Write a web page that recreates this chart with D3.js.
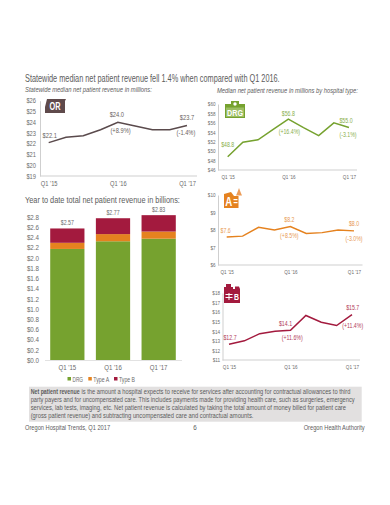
<!DOCTYPE html>
<html>
<head>
<meta charset="utf-8">
<script src="https://cdn.jsdelivr.net/npm/d3@7"></script>
<style>
body { margin: 0; background: #fff; }
svg { display: block; }
text { font-family: "Liberation Sans", sans-serif; }
</style>
</head>
<body>
<svg id="page" width="390" height="505"></svg>
<script>
const quarters = ["Q1 '15", "", "", "", "Q1 '16", "", "", "", "Q1 '17"];
const orValues = [22.1, 22.6, 22.75, 23.3, 24.0, 23.65, 23.3, 23.3, 23.7];
const drgValues = [48.8, 51.9, 52.4, 54.6, 56.8, 55.0, 53.3, 56.0, 55.0];
const typeAValues = [7.6, 7.65, 8.15, 8.0, 8.2, 7.8, 7.85, 8.0, 7.95];
const typeBValues = [12.65, 13.0, 13.75, 14.0, 14.1, 15.65, 14.95, 14.6, 15.75];

const barQuarters = ["Q1 '15", "Q1 '16", "Q1 '17"];
const barDrg = [2.17, 2.32, 2.37];
const barTypeA = [0.12, 0.14, 0.14];
const barTypeB = [0.28, 0.31, 0.32];
const barTotals = ["$2.57", "$2.77", "$2.83"];

const grey = "#6b6b6b";
const green = "#76a22f";
const orange = "#e5821f";
const crimson = "#a31a3e";
const svg = d3.select("#page");

// plain text helper, w is the width the text has in the picture
function label(x, y, str, size, w, color) {
	return svg.append("text").attr("x", x).attr("y", y)
		.attr("fill", color || "#5c5c5c")
		.attr("data-w", w)
		.style("font-size", size + "px")
		.text(str);
}

// one small line chart, the notes are [index, text, dx, dy]
function drawLine(o) {
	const x = d3.scalePoint().domain(d3.range(9)).range([o.x0, o.x1]);
	const y = d3.scaleLinear().domain(o.domain).range([o.y0, o.y1]);
	const g = svg.append("g");

	const left = g.append("g")
		.attr("transform", "translate(" + o.axisX + ",0)")
		.call(d3.axisLeft(y).tickValues(d3.range(o.domain[0], o.domain[1] + 0.01, o.step))
			.tickFormat(d => "$" + d).tickSize(0).tickPadding(o.pad));
	left.select(".domain").attr("stroke", "#cfcfcf");
	left.selectAll("text").attr("fill", grey).style("font-size", o.fs + "px");

	const bottom = g.append("g")
		.attr("transform", "translate(0," + o.y0 + ")")
		.call(d3.axisBottom(x).tickFormat(i => quarters[i]).tickSize(0).tickPadding(5));
	bottom.select(".domain").attr("stroke", "#cfcfcf")
		.attr("d", "M" + o.axisX + ",0H" + o.axisEnd);
	bottom.selectAll("text").attr("fill", grey).style("font-size", o.fs + "px");

	g.append("path")
		.datum(o.values)
		.attr("fill", "none")
		.attr("stroke", o.color)
		.attr("stroke-width", 1.5)
		.attr("d", d3.line().x((d, i) => x(i)).y(d => y(d)));

	g.selectAll(".note")
		.data(o.notes).enter()
		.append("text")
		.attr("x", d => x(d[0]) + d[2])
		.attr("y", d => y(o.values[d[0]]) + d[3])
		.attr("text-anchor", "middle")
		.attr("fill", o.textColor)
		.style("font-size", o.noteFs + "px")
		.text(d => d[1]);
}

label(25, 82, "Statewide median net patient revenue fell 1.4% when compared with Q1 2016.", 10.8, 255);
label(25, 92, "Statewide median net patient revenue in millions:", 7.4, 127).style("font-style", "italic");
label(217, 93.5, "Median net patient revenue in millions by hospital type:", 7.4, 141).style("font-style", "italic");

drawLine({ values: orValues, domain: [19, 26], step: 1, x0: 48.7, x1: 187, y0: 176, y1: 100.7,
	axisX: 40, axisEnd: 197, color: "#5a4a4c", textColor: "#6a5f60", fs: 7, noteFs: 7, pad: 4,
	notes: [[0, "$22.1", 1, -5], [4, "$24.0", -1, -5], [4, "(+8.9%)", 2.7, 10.7], [8, "$23.7", 0, -5], [8, "(-1.4%)", -1, 10]] });

drawLine({ values: drgValues, domain: [46, 60], step: 2, x0: 227.7, x1: 349, y0: 170, y1: 104,
	axisX: 218, axisEnd: 357, color: green, textColor: "#8aaf4e", fs: 5.6, noteFs: 6.4, pad: 2.5,
	notes: [[0, "$48.8", 0, -10], [4, "$56.8", 0, -3.5], [4, "(+16.4%)", 1, 15], [8, "$55.0", -3, -4.6], [8, "(-3.1%)", -1, 9.5]] });

drawLine({ values: typeAValues, domain: [6, 10], step: 1, x0: 226.7, x1: 354, y0: 265, y1: 195,
	axisX: 218, axisEnd: 362.5, color: orange, textColor: "#e89a55", fs: 5.6, noteFs: 6.4, pad: 2.5,
	notes: [[0, "$7.6", -1, -4.3], [4, "$8.2", -1, -4], [4, "(+8.5%)", -1, 12], [8, "$8.0", 0, -4.4], [8, "(-3.0%)", 0, 10]] });

drawLine({ values: typeBValues, domain: [11, 18], step: 1, x0: 229, x1: 352, y0: 360, y1: 293,
	axisX: 222.5, axisEnd: 360, color: crimson, textColor: "#b23c5a", fs: 5.6, noteFs: 6.4, pad: 2.5,
	notes: [[0, "$12.7", 1, -3.7], [4, "$14.1", -5, -4.5], [4, "(+11.6%)", 1.7, 9.7], [8, "$15.7", 0.7, -4.5], [8, "(+11.4%)", 0.7, 13.5]] });

// stacked bars
label(25, 203.5, "Year to date total net patient revenue in billions:", 9.6, 155);

const barX = d3.scaleBand().domain(barQuarters).range([44.5, 181.5]).paddingInner(0.25).paddingOuter(0.125);
const barY = d3.scaleLinear().domain([0, 2.8]).range([360, 216.7]);
const stackRows = barQuarters.map((q, i) => ({ q: q, DRG: barDrg[i], A: barTypeA[i], B: barTypeB[i] }));
const stackKeys = ["DRG", "A", "B"];
const stackColors = { DRG: green, A: orange, B: crimson };

const barLeft = svg.append("g")
	.attr("transform", "translate(44,0)")
	.call(d3.axisLeft(barY).tickValues(d3.range(0, 2.81, 0.2)).tickFormat(d => "$" + d.toFixed(1)).tickSize(0).tickPadding(5));
barLeft.select(".domain").remove();
barLeft.selectAll("text").attr("fill", grey).style("font-size", "7.6px");

svg.append("g")
	.selectAll("g")
	.data(d3.stack().keys(stackKeys)(stackRows)).enter()
	.append("g")
	.attr("fill", d => stackColors[d.key])
	.selectAll("rect")
	.data(d => d).enter()
	.append("rect")
	.attr("x", d => barX(d.data.q))
	.attr("y", d => barY(d[1]))
	.attr("width", barX.bandwidth())
	.attr("height", d => barY(d[0]) - barY(d[1]));

const barBottom = svg.append("g")
	.attr("transform", "translate(0,360)")
	.call(d3.axisBottom(barX).tickSize(0).tickPadding(5));
barBottom.select(".domain").attr("stroke", "#e2e2e2");
barBottom.selectAll("text").attr("fill", grey).style("font-size", "7.4px");

svg.append("g")
	.selectAll("text")
	.data(barQuarters).enter()
	.append("text")
	.attr("x", d => barX(d) + barX.bandwidth() / 2)
	.attr("y", (d, i) => barY(barDrg[i] + barTypeA[i] + barTypeB[i]) - 3.3)
	.attr("text-anchor", "middle")
	.attr("fill", grey)
	.style("font-size", "6.4px")
	.text((d, i) => barTotals[i]);

// legend
const legendItems = [["DRG", green, 67.5, 10.5], ["Type A", orange, 88.3, 16], ["Type B", crimson, 114, 16]];
const legend = svg.append("g").selectAll("g").data(legendItems).enter().append("g")
	.attr("transform", d => "translate(" + d[2] + ",377)");
legend.append("rect").attr("width", 3.5).attr("height", 3.5).attr("fill", d => d[1]);
legend.append("text").attr("x", 5).attr("y", 4.6).attr("fill", grey)
	.attr("data-w", d => d[3]).style("font-size", "7px").text(d => d[0]);

// icons
const orIcon = svg.append("g").attr("transform", "translate(45,99)");
orIcon.append("path").attr("fill", "#5f4a4b")
	.attr("d", "M2,0H21L20,2V14H0V8Z");
orIcon.append("text").attr("x", 10).attr("y", 11).attr("text-anchor", "middle").attr("fill", "#fff")
	.attr("data-w", 11).style("font-size", "10px").style("font-weight", "bold").text("OR");

const drgIcon = svg.append("g").attr("transform", "translate(225,101)").attr("fill", green);
drgIcon.append("path").attr("d", "M6,0H14V3H20V17H0V3H6Z");
drgIcon.append("circle").attr("cx", 10).attr("cy", 3).attr("r", 1.7).attr("fill", "#fff");
drgIcon.append("rect").attr("x", 1).attr("y", 6.5).attr("width", 18).attr("height", 9.5).attr("fill", "#9cbe63");
drgIcon.append("text").attr("x", 10).attr("y", 15).attr("text-anchor", "middle").attr("fill", "#fff")
	.attr("data-w", 16).style("font-size", "9.5px").style("font-weight", "bold").text("DRG");

const aIcon = svg.append("g").attr("transform", "translate(224,191)").attr("fill", orange);
aIcon.append("path").attr("d", "M0,3L7,1L10,5H14.5V17H0Z");
aIcon.append("path").attr("d", "M12,4.5L13.5,1L15,-3L16.5,1L18,4.5Z").attr("fill", "#ec9c58");
aIcon.append("text").attr("x", 4.8).attr("y", 15).attr("text-anchor", "middle").attr("fill", "#fff")
	.attr("data-w", 7).style("font-size", "12px").style("font-weight", "bold").text("A");
aIcon.append("rect").attr("x", 9.5).attr("y", 8).attr("width", 4).attr("height", 1.2).attr("fill", "#fff");
aIcon.append("rect").attr("x", 9.5).attr("y", 11).attr("width", 4).attr("height", 1.2).attr("fill", "#fff");

const bIcon = svg.append("g").attr("transform", "translate(224,284)").attr("fill", crimson);
bIcon.append("path").attr("d", "M0,3H2V0H7V3H9V5H11V2.5H15L16,5V19H0Z");
bIcon.append("rect").attr("x", 1.5).attr("y", 10).attr("width", 7).attr("height", 1).attr("fill", "#fff");
bIcon.append("rect").attr("x", 1.5).attr("y", 13).attr("width", 7).attr("height", 1).attr("fill", "#fff");
bIcon.append("rect").attr("x", 4.5).attr("y", 9).attr("width", 1).attr("height", 7).attr("fill", "#fff");
bIcon.append("text").attr("x", 12.5).attr("y", 16).attr("text-anchor", "middle").attr("fill", "#fff")
	.attr("data-w", 5).style("font-size", "9px").style("font-weight", "bold").text("B");

// note box and footer
svg.append("rect").attr("x", 29).attr("y", 386.7).attr("width", 332.7).attr("height", 35).attr("fill", "#e2e0e0");
label(30.7, 394.5, "Net patient revenue", 7, 49).style("font-weight", "bold");
label(81.5, 394.5, "is the amount a hospital expects to receive for services after accounting for contractual allowances to third", 7, 269.5);
label(30.7, 402.5, "party payers and for uncompensated care. This includes payments made for providing health care, such as surgeries, emergency", 7, 324.5);
label(30.7, 410.5, "services, lab tests, imaging, etc. Net patient revenue is calculated by taking the total amount of money billed for patient care", 7, 316);
label(30.7, 418.5, "(gross patient revenue) and subtracting  uncompensated care and contractual amounts.", 7, 223.5);

label(25, 430.3, "Oregon Hospital Trends, Q1 2017", 7.2, 85);
label(195, 430.3, "6", 7.2, 3.5).attr("text-anchor", "middle");
label(364.7, 430.3, "Oregon Health Authority", 7.2, 61).attr("text-anchor", "end");

// the reference face is a condensed one, squeeze every text around its anchor
svg.selectAll("text").each(function () {
	const t = d3.select(this);
	const len = this.getComputedTextLength();
	const k = t.attr("data-w") ? +t.attr("data-w") / len : 0.82;
	const x = +t.attr("x") || 0;
	t.attr("transform", "translate(" + x + ",0) scale(" + k + ",1) translate(" + (-x) + ",0)");
});
</script>
</body>
</html>
